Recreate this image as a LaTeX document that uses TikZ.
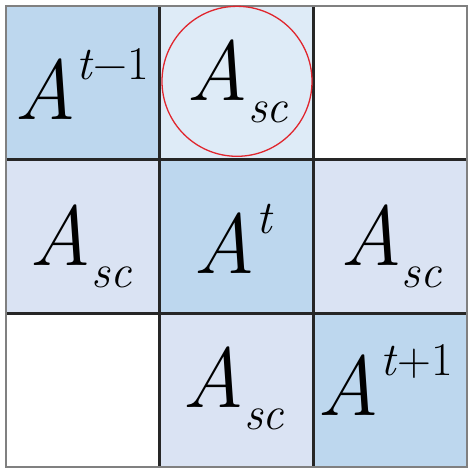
\documentclass[tikz,border=0pt]{standalone}
\usepackage{fontspec}
\usetikzlibrary{positioning}
\definecolor{darkcell}{HTML}{BDD7EE}
\definecolor{palecell}{HTML}{DAE3F3}
\definecolor{lightcell}{HTML}{DEEBF7}
\definecolor{ringred}{HTML}{E0262E}
\newcommand{\scr}[1]{{\fontsize{47}{47}\selectfont #1}}
\newcommand{\Aup}[1]{\textit{A}\kern0.5pt\raisebox{40pt}{\scr{#1}}}
\newcommand{\Asc}{\textit{A}\raisebox{-22pt}{\scr{\textit{sc}}}}

\begin{document}
\begin{tikzpicture}
[x=1pt,y=-1pt,
cell/.style = {rectangle, inner sep=0pt, minimum size=153.67pt, draw=none},
lbl/.style = {inner sep=0pt, anchor=base, font=\fontsize{85}{85}\selectfont},]
\useasboundingbox (0,0) rectangle (474,474);
% cells
\node (c00) at (82.8,82.8)[cell,fill=darkcell] {};
\node (c10) at (236.5,82.8)[cell,fill=lightcell] {};
\node (c20) at (390.2,82.8)[cell,fill=white] {};
\node (c01) at (82.8,236.5)[cell,fill=palecell] {};
\node (c11) at (236.5,236.5)[cell,fill=darkcell] {};
\node (c21) at (390.2,236.5)[cell,fill=palecell] {};
\node (c02) at (82.8,390.2)[cell,fill=white] {};
\node (c12) at (236.5,390.2)[cell,fill=palecell] {};
\node (c22) at (390.2,390.2)[cell,fill=darkcell] {};
% grid
\draw[line width=2.8pt,black!85] (c00.north east) -- (c02.south east);
\draw[line width=2.8pt,black!85] (c10.north east) -- (c12.south east);
\draw[line width=2.8pt,black!85] (c00.south west) -- (c20.south east);
\draw[line width=2.8pt,black!85] (c01.south west) -- (c21.south east);
\draw[line width=2.5pt,black!50] (c00.north west) rectangle (c22.south east);
% labels
\node (L00) [lbl,xshift=-1pt,yshift=-37pt] at (c00) {\Aup{\textit{t}−1}};
\node (L10) [lbl,xshift=1pt,yshift=-17.5pt] at (c10) {\Asc};
\node (L01) [lbl,xshift=-2pt,yshift=-28.5pt] at (c01) {\Asc};
\node (L11) [lbl,xshift=-3pt,yshift=-36.5pt] at (c11) {\Aup{\textit{t}}};
\node (L21) [lbl,xshift=1pt,yshift=-28.5pt] at (c21) {\Asc};
\node (L12) [lbl,xshift=-3pt,yshift=-17pt] at (c12) {\Asc};
\node (L22) [lbl,xshift=-5pt,yshift=-25pt] at (c22) {\Aup{\textit{t}+1}};
\node (ring) [circle,draw=ringred,line width=1.3pt,minimum size=150pt,inner sep=0pt,xshift=0.5pt,yshift=1.5pt] at (c10) {};
\end{tikzpicture}
\end{document}
